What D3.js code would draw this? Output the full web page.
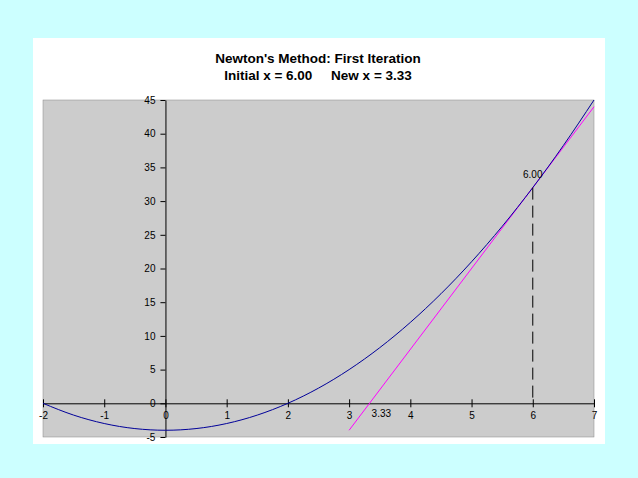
<!DOCTYPE html><html><head><meta charset="utf-8"><script src="https://cdn.jsdelivr.net/npm/d3@7"></script>
<style>body{margin:0;background:#ccffff}</style></head><body><svg id="c" width="638" height="478"></svg>
<script>
const xTicks=[-2,-1,0,1,2,3,4,5,6,7];
const yTicks=[-5,0,5,10,15,20,25,30,35,40,45];
const curveX=[-2,-1.5,-1,-0.5,0,0.5,1,1.5,2,2.5,3,3.5,4,4.5,5,5.5,6,6.5,7];
const curveY=[0,-1.75,-3,-3.75,-4,-3.75,-3,-1.75,0,2.25,5,8.25,12,16.25,21,26.25,32,38.25,45];
const tangentX=[3,7];
const tangentY=[-4,44];
const initialX=6, initialY=32, newX=3.33;
const svg=d3.select("#c");
svg.append("rect").attr("x",33).attr("y",38).attr("width",572).attr("height",406).attr("fill","#fff");
const x=d3.scaleLinear().domain([-2,7]).range([43,594]);
const y=d3.scaleLinear().domain([-5,45]).range([437,100]);
svg.append("rect").attr("x",43).attr("y",100).attr("width",551).attr("height",337).attr("fill","#cccccc").attr("stroke","#888").attr("stroke-width",0.5);
const f="Liberation Sans, Arial, sans-serif";
svg.append("text").attr("x",318).attr("y",63).attr("text-anchor","middle").attr("font-family",f).attr("font-weight","bold").attr("font-size",13.5).text("Newton's Method: First Iteration");
svg.append("text").attr("x",318).attr("y",80).attr("text-anchor","middle").attr("font-family",f).attr("font-weight","bold").attr("font-size",13.5).attr("xml:space","preserve").text("Initial x = 6.00     New x = 3.33");
const ya=svg.append("g").attr("transform",`translate(${x(0)},0)`).call(d3.axisLeft(y).tickValues(yTicks).tickFormat(d=>String(d)).tickSize(5).tickSizeOuter(0));
const xa=svg.append("g").attr("transform",`translate(0,${y(0)})`).call(d3.axisBottom(x).tickValues(xTicks).tickFormat(d=>String(d)).tickSize(4).tickSizeOuter(0));
[ya,xa].forEach(a=>{a.selectAll("text").attr("font-family",f).attr("font-size",10).attr("fill","#000");a.select(".domain").attr("stroke","#000");});
xa.selectAll(".tick line").attr("y1",-4).attr("y2",4);
xa.selectAll(".tick text").attr("dy","0.9em");
ya.selectAll(".tick text").attr("dx","-2");
const line=d3.line().x(d=>x(d[0])).y(d=>y(d[1]));
svg.append("path").datum(tangentX.map((v,i)=>[v,tangentY[i]])).attr("d",line).attr("stroke","#ff00ff").attr("fill","none").attr("stroke-width",1);
svg.append("path").datum(curveX.map((v,i)=>[v,curveY[i]])).attr("d",d3.line().curve(d3.curveMonotoneX).x(d=>x(d[0])).y(d=>y(d[1]))).attr("stroke","#000099").attr("fill","none").attr("stroke-width",1);
svg.append("line").attr("x1",x(initialX)).attr("x2",x(initialX)).attr("y1",y(initialY)).attr("y2",y(0)).attr("stroke","#000").attr("stroke-dasharray","12,6");
svg.append("text").attr("x",x(initialX)).attr("y",y(initialY)-10).attr("text-anchor","middle").attr("font-family",f).attr("font-size",10).text("6.00");
svg.append("text").attr("x",x(newX)+12).attr("y",y(0)+14).attr("text-anchor","middle").attr("font-family",f).attr("font-size",10).text("3.33");
</script></body></html>
